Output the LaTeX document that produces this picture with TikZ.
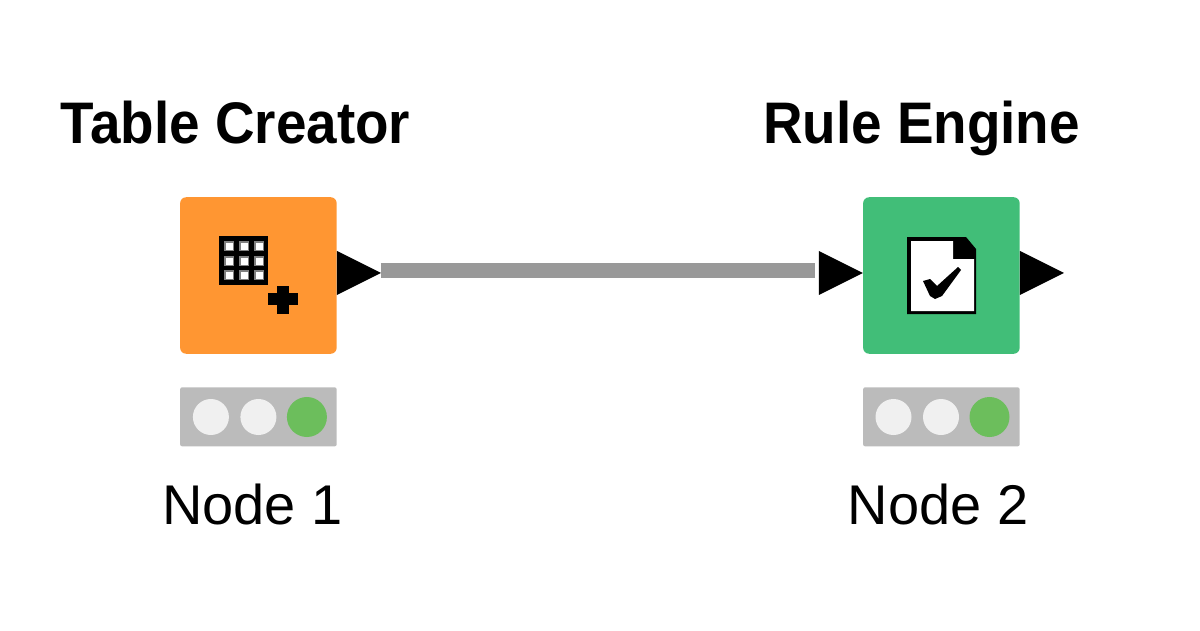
\documentclass[tikz,border=0pt]{standalone}
\usepackage{fontspec}
\setmainfont{Liberation Sans}
\newfontfamily\titlefont[FakeStretch=0.935]{Liberation Sans}
\usetikzlibrary{positioning,shapes.geometric}
\definecolor{nodeorange}{HTML}{FF9632}
\definecolor{nodegreen}{HTML}{41BE78}
\definecolor{wiregray}{HTML}{999999}
\definecolor{lampgreen}{HTML}{6CBE5C}
\definecolor{lampoff}{HTML}{F0F0F0}
\definecolor{bargray}{HTML}{BBBBBB}

\begin{document}
\begin{tikzpicture}[x=0.025cm,y=-0.025cm,
		node distance = 0pt,
		knode/.style = {rectangle,rounded corners=0.15cm,inner sep=0pt,minimum size=3.9125cm},
		port/.style = {isosceles triangle,isosceles triangle apex angle=53.13,isosceles triangle stretches,fill=black,inner sep=0pt,outer sep=0pt,minimum width=1.1cm,minimum height=1.1cm},
		bar/.style = {rectangle,rounded corners=0.05cm,fill=bargray,inner sep=0pt,minimum width=3.9125cm,minimum height=1.475cm},
		lamp/.style = {circle,fill=lampoff,inner sep=0pt,minimum size=0.9cm},
		lampon/.style = {circle,fill=lampgreen,inner sep=0pt,minimum size=1cm},
		title/.style = {font=\fontsize{41.7}{46}\titlefont\bfseries},
		caption/.style = {font=\fontsize{39.8}{44}\selectfont},
		wire/.style = {draw=wiregray,line width=0.375cm,shorten >=0.1cm}
		]
		\useasboundingbox (0,0) rectangle (1200,630);
		
		%the two nodes
		\node (n1) [knode,fill=nodeorange] at (258.4,275.5) {};
		\node (n2) [knode,fill=nodegreen,right=526pt*0.711 of n1] {};
		
		%ports
		\node (n1out) [port,right=of n1,yshift=1.8pt] {};
		\node (n2in) [port,left=of n2,yshift=1.8pt] {};
		\node (n2out) [port,right=of n2,yshift=1.8pt] {};
		
		%status bars
		\node (s1) [bar,below=33pt*0.711 of n1] {};
		\node (s2) [bar,below=33pt*0.711 of n2] {};
		\foreach \s/\x in {1/258.4,2/941} {
			\node (s\s a) [lamp] at (\x-47.5,417) {};
			\node (s\s b) [lamp] at (\x,417) {};
			\node (s\s c) [lampon] at (\x+48.5,417) {};
		}
		
		%labels
		\node (t1) [title,anchor=base] at (235.5,144) {Table Creator};
		\node (t2) [title,anchor=base] at (921.5,144) {Rule Engine};
		\node (c1) [caption,anchor=base] at (252.5,524.5) {Node 1};
		\node (c2) [caption,anchor=base] at (938,524.5) {Node 2};
		
		%table icon
		\fill[black] (219,236) rectangle (268,285);
		\foreach \i in {229,244,259}
			\foreach \j in {246,261,275} {
				\fill[gray] (\i-5,\j-5) rectangle (\i+5,\j+5);
				\fill[white] (\i-3.5,\j-3.5) rectangle (\i+3.5,\j+3.5);
			}
		\fill[black] (268,293) rectangle (298,305);
		\fill[black] (277,286) rectangle (289,314);
		
		%document icon
		\fill[black] (907,237) -- (966,237) -- (976,249) -- (976,314) -- (907,314) -- cycle;
		\fill[white] (911,241) -- (953,241) -- (953,259) -- (974,259) -- (974,311) -- (911,311) -- cycle;
		\fill[black] (923,281) -- (930,279) -- (937,286) -- (958,267) -- (961,270) -- (942,296) -- (935,299) -- (930,296) -- cycle;
		
		%wire
		\draw[wire] ([yshift=1.8pt]n1out.east) -- ([yshift=1.8pt]n2in.west);
		
		\end{tikzpicture}
\end{document}
